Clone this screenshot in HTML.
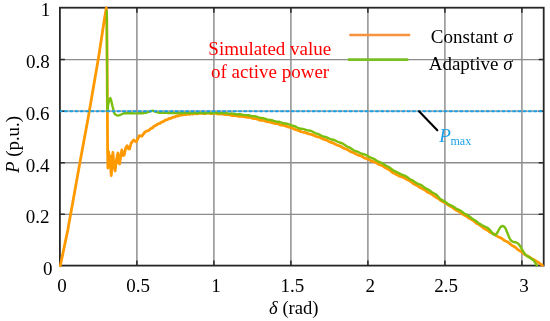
<!DOCTYPE html>
<html><head><meta charset="utf-8"><title>P-delta curve</title>
<style>html,body{margin:0;padding:0;background:#fff;}svg{display:block;}</style>
</head><body>
<svg width="550" height="321" viewBox="0 0 550 321">
<rect width="550" height="321" fill="#fff"/>
<line x1="136.90" y1="7.7" x2="136.90" y2="265.6" stroke="#8C8C8C" stroke-width="1.45"/>
<line x1="213.90" y1="7.7" x2="213.90" y2="265.6" stroke="#8C8C8C" stroke-width="1.45"/>
<line x1="290.90" y1="7.7" x2="290.90" y2="265.6" stroke="#8C8C8C" stroke-width="1.45"/>
<line x1="367.90" y1="7.7" x2="367.90" y2="265.6" stroke="#8C8C8C" stroke-width="1.45"/>
<line x1="444.90" y1="7.7" x2="444.90" y2="265.6" stroke="#8C8C8C" stroke-width="1.45"/>
<line x1="521.90" y1="7.7" x2="521.90" y2="265.6" stroke="#8C8C8C" stroke-width="1.45"/>
<line x1="59.9" y1="214.32" x2="543.7" y2="214.32" stroke="#8C8C8C" stroke-width="1.35"/>
<line x1="59.9" y1="162.74" x2="543.7" y2="162.74" stroke="#8C8C8C" stroke-width="1.35"/>
<line x1="59.9" y1="111.16" x2="543.7" y2="111.16" stroke="#8C8C8C" stroke-width="1.35"/>
<line x1="59.9" y1="59.58" x2="543.7" y2="59.58" stroke="#8C8C8C" stroke-width="1.35"/>
<path d="M136.90 265.6v-5M136.90 7.7v5M213.90 265.6v-5M213.90 7.7v5M290.90 265.6v-5M290.90 7.7v5M367.90 265.6v-5M367.90 7.7v5M444.90 265.6v-5M444.90 7.7v5M521.90 265.6v-5M521.90 7.7v5M59.9 214.32h5M543.7 214.32h-5M59.9 162.74h5M543.7 162.74h-5M59.9 111.16h5M543.7 111.16h-5M59.9 59.58h5M543.7 59.58h-5" stroke="#2a2a2a" stroke-width="1.5" fill="none"/>
<rect x="59.9" y="7.7" width="483.80" height="257.90" fill="none" stroke="#262626" stroke-width="1.8"/>
<path d="M60.3 265.8L67.8 230.0L81.1 156.0L87.8 120.0L98.8 56.0L104.3 20.0L106.3 8.0L106.8 20.0L107.1 60.0L107.4 112.0L107.6 150.0L107.9 168.0L108.7 152.0L109.5 166.0L110.2 156.0L110.8 170.0L111.3 175.5L112.2 160.0L112.9 152.5L114.0 166.0L115.1 171.0L116.3 161.0L117.4 155.0L118.0 153.0L118.8 163.0L119.6 164.0L120.7 156.0L121.8 150.0L123.2 155.6L124.2 155.0L125.7 148.0L127.1 145.6L128.6 149.0L129.6 148.8L131.2 143.0L133.7 140.0L136.2 141.9L139.4 135.6L141.9 136.2L145.0 131.9L146.0 131.5L147.0 130.8L148.0 130.6L149.0 130.3L150.0 129.2L151.0 128.5L152.0 128.2L153.0 127.5L154.0 126.2L155.0 125.7L156.0 125.5L157.0 124.7L158.0 123.8L159.0 123.6L160.0 123.4L161.0 122.5L162.0 121.8L163.0 121.7L164.0 121.3L165.0 120.3L166.0 119.9L167.0 119.9L168.0 119.3L169.0 118.5L170.0 118.4L171.0 118.4L172.0 117.7L173.0 117.2L174.0 117.2L175.0 117.0L176.0 116.2L177.0 115.9L178.0 116.0L179.0 115.6L180.0 115.0L181.0 115.0L182.0 115.2L183.0 114.8L184.0 114.4L185.0 114.6L186.0 114.7L187.0 114.2L188.0 114.0L189.0 114.4L190.0 114.2L191.0 113.7L192.0 113.8L193.0 114.1L194.0 113.8L195.0 113.4L196.0 113.7L197.0 113.9L198.0 113.4L199.0 113.3L200.0 113.3L201.0 113.3L202.0 113.4L203.0 113.5L204.0 113.6L205.0 113.6L206.0 113.4L207.0 113.2L208.0 113.2L209.0 113.3L210.0 113.5L211.0 113.6L212.0 113.6L213.0 113.5L214.0 113.3L215.0 113.3L216.0 113.5L217.0 113.8L218.0 113.9L219.0 114.0L220.0 113.9L221.0 113.9L222.0 114.0L223.0 114.2L224.0 114.5L225.0 114.7L226.0 114.7L227.0 114.7L228.0 114.7L229.0 114.7L230.0 115.0L231.0 115.3L232.0 115.5L233.0 115.6L234.0 115.5L235.0 115.5L236.0 115.6L237.0 115.9L238.0 116.2L239.0 116.4L240.0 116.4L241.0 116.4L242.0 116.4L243.0 116.5L244.0 116.7L245.0 117.0L246.0 117.2L247.0 117.3L248.0 117.3L249.0 117.3L250.0 117.4L251.0 117.7L252.0 118.1L253.0 118.4L254.0 118.6L255.0 118.6L256.0 118.7L257.0 119.0L258.0 119.4L259.0 119.8L260.0 120.1L261.0 120.3L262.0 120.3L263.0 120.4L264.0 120.6L265.0 121.0L266.0 121.4L267.0 121.7L268.0 121.9L269.0 121.9L270.0 122.0L271.0 122.3L272.0 122.6L273.0 123.0L274.0 123.3L275.0 123.5L276.0 123.6L277.0 123.7L278.0 123.9L279.0 124.3L280.0 124.7L281.0 125.1L282.0 125.2L283.0 125.3L284.0 125.4L285.0 125.7L286.0 126.1L287.0 126.5L288.0 126.9L289.0 127.1L290.0 127.3L291.0 127.5L292.0 127.8L293.0 128.4L294.0 128.9L295.0 129.4L296.0 129.8L297.0 130.0L298.0 130.3L299.0 130.7L300.0 131.2L301.0 131.7L302.0 132.0L303.0 132.2L304.0 132.3L305.0 132.5L306.0 132.8L307.0 133.2L308.0 133.6L309.0 134.0L310.0 134.2L311.0 134.4L312.0 134.6L313.0 134.9L314.0 135.4L315.0 135.9L316.0 136.3L317.0 136.6L318.0 136.8L319.0 137.0L320.0 137.4L321.0 138.0L322.0 138.5L323.0 139.0L324.0 139.3L325.0 139.6L326.0 139.9L327.0 140.3L328.0 140.9L329.0 141.5L330.0 142.0L331.0 142.3L332.0 142.6L333.0 142.9L334.0 143.4L335.0 143.9L336.0 144.5L337.0 145.0L338.0 145.4L339.0 145.7L340.0 146.0L341.0 146.5L342.0 147.1L343.0 147.8L344.0 148.3L345.0 148.7L346.0 149.0L347.0 149.4L348.0 149.9L349.0 150.6L350.0 151.2L351.0 151.8L352.0 152.2L353.0 152.5L354.0 152.9L355.0 153.4L356.0 154.0L357.0 154.6L358.0 155.1L359.0 155.4L360.0 155.7L361.0 156.0L362.0 156.5L363.0 157.1L364.0 157.7L365.0 158.2L366.0 158.5L367.0 158.8L368.0 159.1L369.0 159.5L370.0 160.1L371.0 160.7L372.0 161.2L373.0 161.5L374.0 161.8L375.0 162.1L376.0 162.6L377.0 163.3L378.0 163.9L379.0 164.4L380.0 164.8L381.0 165.1L382.0 165.5L383.0 166.1L384.0 166.8L385.0 167.5L386.0 168.1L387.0 168.6L388.0 169.0L389.0 169.6L390.0 170.3L391.0 171.2L392.0 172.1L393.0 172.8L394.0 173.3L395.0 173.7L396.0 174.2L397.0 174.8L398.0 175.4L399.0 176.0L400.0 176.4L401.0 176.7L402.0 177.0L403.0 177.3L404.0 177.8L405.0 178.4L406.0 179.1L407.0 179.6L408.0 180.1L409.0 180.5L410.0 181.0L411.0 181.7L412.0 182.5L413.0 183.3L414.0 184.0L415.0 184.5L416.0 184.9L417.0 185.4L418.0 186.0L419.0 186.8L420.0 187.5L421.0 188.1L422.0 188.6L423.0 189.0L424.0 189.5L425.0 190.2L426.0 190.9L427.0 191.7L428.0 192.3L429.0 192.8L430.0 193.2L431.0 193.7L432.0 194.4L433.0 195.2L434.0 196.0L435.0 196.6L436.0 197.2L437.0 197.7L438.0 198.3L439.0 199.0L440.0 199.8L441.0 200.6L442.0 201.3L443.0 201.8L444.0 202.2L445.0 202.7L446.0 203.4L447.0 204.2L448.0 204.9L449.0 205.6L450.0 206.1L451.0 206.5L452.0 207.1L453.0 207.8L454.0 208.6L455.0 209.4L456.0 210.0L457.0 210.5L458.0 211.0L459.0 211.6L460.0 212.3L461.0 213.1L462.0 213.8L463.0 214.4L464.0 214.9L465.0 215.4L466.0 215.9L467.0 216.6L468.0 217.4L469.0 218.1L470.0 218.8L471.0 219.3L472.0 219.8L473.0 220.4L474.0 221.1L475.0 222.0L476.0 222.8L477.0 223.5L478.0 224.0L479.0 224.6L480.0 225.2L481.0 226.0L482.0 226.8L483.0 227.7L484.0 228.3L485.0 228.9L486.0 229.4L487.0 230.0L488.0 230.7L489.0 231.5L490.0 232.2L491.0 232.8L492.0 233.2L493.0 233.6L494.0 234.1L495.0 234.7L496.0 235.4L497.0 236.1L498.0 236.7L499.0 237.1L500.0 237.5L501.0 238.0L502.0 238.7L503.0 239.5L504.0 240.2L505.0 240.7L506.0 241.2L507.0 241.6L508.0 242.2L509.0 243.0L510.0 243.8L511.0 244.7L512.0 245.4L513.0 245.9L514.0 246.5L515.0 247.1L516.0 247.9L517.0 248.8L518.0 249.6L519.0 250.3L520.0 250.9L521.0 251.4L522.0 252.1L523.0 252.9L524.0 253.8L525.0 254.6L526.0 255.2L527.0 255.7L528.0 256.2L529.0 256.7L530.0 257.4L531.0 258.1L532.0 258.8L533.0 259.4L534.0 259.8L535.0 260.4L536.0 261.0L537.0 261.6L538.0 262.2L539.0 262.9L540.0 263.6L541.0 264.3L542.0 265.0L542.4 265.3" stroke="#FF9900" stroke-width="2.8" fill="none" stroke-linejoin="round" stroke-linecap="round"/>
<path d="M106.8 11.0L107.0 60.0L107.3 111.0" stroke="#7ABF0E" stroke-width="2.2" fill="none" stroke-linejoin="round" stroke-linecap="round"/>
<path d="M107.3 111.0L108.2 104.5L109.3 99.5L110.3 98.1L111.3 101.0L112.3 105.5L112.9 107.7L114.2 113.0L115.3 114.4L116.4 115.1L118.1 115.6L119.6 115.2L121.2 114.5L123.0 113.7L124.7 113.2L125.7 113.2L126.7 113.2L127.7 113.2L128.7 113.2L129.7 113.2L130.7 113.3L131.7 113.3L132.7 113.3L133.7 113.4L134.7 113.4L135.7 113.4L136.7 113.4L137.7 113.4L138.7 113.3L139.7 113.3L140.7 113.3L141.7 113.2L142.7 113.2L143.7 113.0L144.7 112.9L145.7 112.7L146.7 112.5L147.7 112.2L148.7 111.8L149.7 111.5L150.7 111.2L151.7 110.9L152.7 110.8L153.7 111.0L154.7 111.5L155.7 111.9L156.7 112.1L157.7 112.4L158.7 112.7L159.7 112.8L160.7 112.8L161.7 112.8L162.7 112.9L163.7 112.9L164.7 112.9L165.7 112.9L166.7 112.9L167.7 113.0L168.7 113.0L169.7 113.0L170.7 113.0L171.7 113.0L172.7 113.0L173.7 113.0L174.7 113.0L175.7 113.0L176.7 113.0L177.7 113.0L178.7 113.0L179.7 113.0L180.7 113.0L181.7 113.0L182.7 113.0L183.7 113.0L184.7 113.0L185.7 113.0L186.7 113.0L187.7 113.0L188.7 113.0L189.7 113.0L190.7 113.0L191.7 113.0L192.7 113.0L193.7 113.0L194.7 113.0L195.7 113.0L196.7 113.0L197.7 113.0L198.7 113.0L199.7 113.0L200.7 112.8L201.7 112.8L202.7 113.0L203.7 113.1L204.7 113.2L205.7 113.2L206.7 113.0L207.7 112.9L208.7 112.8L209.7 112.8L210.7 113.0L211.7 113.1L212.7 113.2L213.7 113.1L214.7 113.0L215.7 112.9L216.7 112.8L217.7 112.9L218.7 113.1L219.7 113.2L220.7 113.3L221.7 113.2L222.7 113.1L223.7 113.0L224.7 113.0L225.7 113.1L226.7 113.3L227.7 113.5L228.7 113.6L229.7 113.6L230.7 113.5L231.7 113.5L232.7 113.6L233.7 113.8L234.7 114.0L235.7 114.2L236.7 114.4L237.7 114.3L238.7 114.3L239.7 114.3L240.7 114.3L241.7 114.6L242.7 114.8L243.7 115.0L244.7 115.1L245.7 115.1L246.7 115.1L247.7 115.1L248.7 115.2L249.7 115.5L250.7 115.8L251.7 116.1L252.7 116.2L253.7 116.3L254.7 116.3L255.7 116.5L256.7 116.7L257.7 117.1L258.7 117.4L259.7 117.7L260.7 117.9L261.7 118.0L262.7 118.1L263.7 118.3L264.7 118.6L265.7 118.9L266.7 119.3L267.7 119.6L268.7 119.8L269.7 119.9L270.7 120.0L271.7 120.2L272.7 120.5L273.7 120.9L274.7 121.2L275.7 121.5L276.7 121.7L277.7 121.7L278.7 121.8L279.7 122.0L280.7 122.3L281.7 122.7L282.7 123.1L283.7 123.3L284.7 123.5L285.7 123.5L286.7 123.7L287.7 123.9L288.7 124.2L289.7 124.7L290.7 125.1L291.7 125.4L292.7 125.7L293.7 126.0L294.7 126.2L295.7 126.6L296.7 127.2L297.7 127.7L298.7 128.2L299.7 128.5L300.7 128.7L301.7 128.8L302.7 128.9L303.7 129.1L304.7 129.5L305.7 129.8L306.7 130.1L307.7 130.4L308.7 130.5L309.7 130.6L310.7 130.8L311.7 131.2L312.7 131.7L313.7 132.3L314.7 132.8L315.7 133.3L316.7 133.6L317.7 133.9L318.7 134.3L319.7 134.7L320.7 135.3L321.7 135.8L322.7 136.3L323.7 136.6L324.7 136.8L325.7 137.0L326.7 137.4L327.7 137.8L328.7 138.3L329.7 138.8L330.7 139.3L331.7 139.5L332.7 139.7L333.7 140.0L334.7 140.3L335.7 140.7L336.7 141.2L337.7 141.7L338.7 142.2L339.7 142.5L340.7 142.8L341.7 143.1L342.7 143.6L343.7 144.2L344.7 144.9L345.7 145.6L346.7 146.2L347.7 146.7L348.7 147.2L349.7 147.6L350.7 148.2L351.7 148.9L352.7 149.6L353.7 150.3L354.7 150.8L355.7 151.1L356.7 151.4L357.7 151.7L358.7 152.2L359.7 152.7L360.7 153.2L361.7 153.7L362.7 154.0L363.7 154.3L364.7 154.5L365.7 154.9L366.7 155.4L367.7 156.0L368.7 156.6L369.7 157.2L370.7 157.6L371.7 158.0L372.7 158.4L373.7 158.8L374.7 159.4L375.7 160.0L376.7 160.7L377.7 161.3L378.7 161.7L379.7 162.1L380.7 162.5L381.7 162.9L382.7 163.5L383.7 164.2L384.7 164.9L385.7 165.5L386.7 166.0L387.7 166.5L388.7 167.0L389.7 167.6L390.7 168.4L391.7 169.2L392.7 170.0L393.7 170.6L394.7 171.2L395.7 171.6L396.7 172.0L397.7 172.5L398.7 173.0L399.7 173.6L400.7 174.2L401.7 174.6L402.7 175.0L403.7 175.3L404.7 175.6L405.7 176.2L406.7 176.8L407.7 177.6L408.7 178.3L409.7 179.0L410.7 179.5L411.7 179.9L412.7 180.5L413.7 181.1L414.7 181.9L415.7 182.6L416.7 183.3L417.7 183.7L418.7 184.1L419.7 184.4L420.7 184.8L421.7 185.4L422.7 186.2L423.7 187.0L424.7 187.8L425.7 188.4L426.7 188.9L427.7 189.3L428.7 189.9L429.7 190.6L430.7 191.3L431.7 192.1L432.7 192.7L433.7 193.2L434.7 193.7L435.7 194.2L436.7 195.0L437.7 196.0L438.7 197.2L439.7 198.3L440.7 199.2L441.7 199.8L442.7 200.4L443.7 200.9L444.7 201.5L445.7 202.2L446.7 203.0L447.7 203.7L448.7 204.4L449.7 204.8L450.7 205.3L451.7 205.7L452.7 206.2L453.7 206.9L454.7 207.6L455.7 208.3L456.7 208.9L457.7 209.3L458.7 209.7L459.7 210.2L460.7 210.8L461.7 211.6L462.7 212.3L463.7 213.1L464.7 213.7L465.7 214.2L466.7 214.6L467.7 215.2L468.7 215.9L469.7 216.7L470.7 217.5L471.7 218.3L472.7 219.0L473.7 219.6L474.7 220.2L475.7 220.8L476.7 221.6L477.7 222.4L478.7 223.2L479.7 223.9L480.7 224.3L481.7 225.0L482.7 225.5L483.7 226.1L484.7 226.5L485.7 227.0L486.7 227.4L487.7 228.0L488.7 228.8L489.7 229.8L490.7 230.9L491.7 232.3L492.7 233.6L493.7 234.5L494.7 235.1L495.7 234.8L496.7 233.6L497.7 232.0L498.7 230.0L499.7 228.3L500.7 226.9L501.7 226.3L502.7 226.0L503.7 226.3L504.7 227.2L505.7 228.8L506.7 231.3L507.7 233.8L508.7 236.3L509.7 238.5L510.7 240.2L511.7 241.0L512.7 241.6L513.7 242.0L514.7 242.1L515.7 242.3L516.7 242.7L517.7 243.3L518.7 244.1L519.7 245.4L520.7 247.1L521.7 248.8L522.7 250.7L523.7 252.3L524.7 253.7L525.7 254.8L526.7 255.7L527.7 256.4L528.7 257.0L529.7 257.6L530.7 258.2L531.7 258.9L532.7 259.6L533.7 260.5L534.7 261.9L535.7 263.5L536.7 265.0L536.9 265.3" stroke="#7ABF0E" stroke-width="2.4" fill="none" stroke-linejoin="round" stroke-linecap="round"/>
<line x1="59.9" y1="111.3" x2="543.7" y2="111.3" stroke="#1AA0E6" stroke-width="2.0" stroke-dasharray="3.5 1.772" stroke-dashoffset="0.95"/>
<line x1="419" y1="111.3" x2="437.3" y2="130.3" stroke="#000" stroke-width="2.1" stroke-linecap="round"/>
<line x1="350.3" y1="34.9" x2="409.2" y2="34.9" stroke="#F7933F" stroke-width="2.5" stroke-linecap="round"/>
<line x1="348.8" y1="59.6" x2="407.3" y2="59.6" stroke="#79BF24" stroke-width="2.7" stroke-linecap="round"/>
<g font-family="'Liberation Serif', serif" font-size="19" fill="#000">
<text x="61.90" y="292" text-anchor="middle">0</text>
<text x="138.20" y="292" text-anchor="middle">0.5</text>
<text x="216.10" y="292" text-anchor="middle">1</text>
<text x="292.30" y="292" text-anchor="middle">1.5</text>
<text x="370.20" y="292" text-anchor="middle">2</text>
<text x="446.10" y="292" text-anchor="middle">2.5</text>
<text x="524.10" y="292" text-anchor="middle">3</text>
<text x="52.40" y="274.80" text-anchor="end">0</text>
<text x="49.50" y="223.32" text-anchor="end">0.2</text>
<text x="49.50" y="171.84" text-anchor="end">0.4</text>
<text x="49.60" y="119.66" text-anchor="end">0.6</text>
<text x="49.70" y="68.08" text-anchor="end">0.8</text>
<text x="50.20" y="16.30" text-anchor="end">1</text>
<text x="293.8" y="314.4" text-anchor="middle" font-size="18.6"><tspan font-style="italic">δ</tspan> (rad)</text>
<text transform="translate(19.1 144.5) rotate(-90)" text-anchor="middle" font-size="18.8"><tspan font-style="italic">P</tspan> (p.u.)</text>
<text x="269.8" y="54.6" text-anchor="middle" fill="#FF0000">Simulated value</text>
<text x="270.1" y="78.0" text-anchor="middle" fill="#FF0000">of active power</text>
<text x="512.5" y="43.2" text-anchor="end">Constant <tspan font-style="italic">σ</tspan></text>
<text x="512.5" y="69.6" text-anchor="end">Adaptive <tspan font-style="italic">σ</tspan></text>
<text x="439.3" y="141.7" fill="#1AA0E6" font-style="italic">P</text>
<text x="450.5" y="144.6" fill="#1AA0E6" font-size="12">max</text>
</g>
</svg>
</body></html>
